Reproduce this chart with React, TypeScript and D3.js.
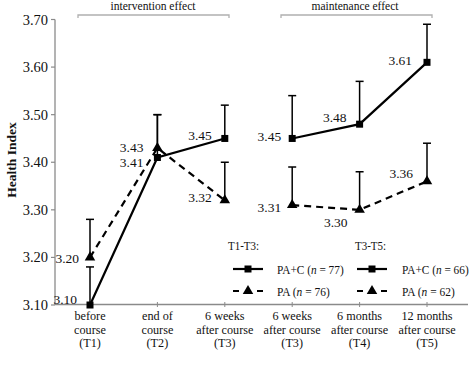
import React from "react";
import * as d3 from "d3";

const categoryIds = ["T1", "T2", "T3a", "T3b", "T4", "T5"];
const categoryLabels = [
  ["before", "course", "(T1)"],
  ["end of", "course", "(T2)"],
  ["6 weeks", "after course", "(T3)"],
  ["6 weeks", "after course", "(T3)"],
  ["6 months", "after course", "(T4)"],
  ["12 months", "after course", "(T5)"],
];
const yTicks = [3.1, 3.2, 3.3, 3.4, 3.5, 3.6, 3.7];
const pacValues = [3.1, 3.41, 3.45, 3.45, 3.48, 3.61];
const pacUpper = [3.18, 3.5, 3.52, 3.54, 3.57, 3.69];
const paValues = [3.2, 3.43, 3.32, 3.31, 3.3, 3.36];
const paUpper = [3.28, 3.5, 3.4, 3.39, 3.38, 3.44];
const segments = [
  [0, 1, 2],
  [3, 4, 5],
];
const legendGroups = ["T1-T3:", "T3-T5:"];
const pacN = ["77", "66"];
const paN = ["76", "62"];
// label layout: [dx, dy] relative to point (text right-aligned)
const pacLabelOffsets = [[-13, -6], [-14, 5], [-13, -3], [-11, -2], [-13, -7], [-15, -2]];
const paLabelOffsets = [[-11, 1], [-14, -1], [-13, -3], [-11, 2], [-12, 12], [-14, -8]];

const W = 474;
const H = 366;
const FONT = "'Times New Roman', Times, 'Liberation Serif', serif";

export default function App() {
  const x = d3.scalePoint<string>().domain(categoryIds).range([90, 427]);
  const y = d3.scaleLinear().domain([3.1, 3.7]).range([305, 19.5]);

  const mkLine = (vals: number[], idx: number[]) =>
    d3
      .line<number>()
      .x((i) => x(categoryIds[i]) as number)
      .y((i) => y(vals[i]))(idx) as string;

  const tri = d3.symbol().type(d3.symbolTriangle).size(48)() as string;
  const axisColor = "#8a8a8a";
  const legendCols = [
    { lx: 233, tx: 277, hx: 228 },
    { lx: 357, tx: 402, hx: 355 },
  ];

  return (
    <svg
      width={W}
      height={H}
      style={{ position: "absolute", left: 0, top: 0, background: "#fff", fontFamily: FONT }}
    >
      {/* brackets */}
      <g stroke="#b0b0b0" strokeWidth={1.3} fill="none">
        <path d="M78,18 V15 H229 V18" />
        <path d="M281,18 V15 H432 V18" />
      </g>
      <text x={110.5} y={10} fontSize={12.5} fill="#111" textLength={85} lengthAdjust="spacingAndGlyphs">
        intervention effect
      </text>
      <text x={311.5} y={10} fontSize={12.5} fill="#111" textLength={87} lengthAdjust="spacingAndGlyphs">
        maintenance effect
      </text>

      {/* y axis */}
      <line x1={55} x2={55} y1={y(3.7)} y2={y(3.1)} stroke={axisColor} strokeWidth={1.3} />
      {yTicks.map((t) => (
        <g key={t}>
          <line x1={51} x2={55} y1={y(t)} y2={y(t)} stroke={axisColor} strokeWidth={1.2} />
          <text x={48} y={y(t) + 5} textAnchor="end" fontSize={14.5} fill="#111">
            {t.toFixed(2)}
          </text>
        </g>
      ))}
      <text
        transform={`translate(16,160) rotate(-90)`}
        textAnchor="middle"
        fontSize={13.5}
        fontWeight="bold"
        fill="#111"
      >
        Health Index
      </text>

      {/* x axis */}
      <line x1={55} x2={468} y1={304.5} y2={304.5} stroke={axisColor} strokeWidth={1.3} />
      {categoryIds.map((c, i) => (
        <g key={c}>
          <line x1={x(c)} x2={x(c)} y1={302} y2={307} stroke={axisColor} strokeWidth={1} />
          {categoryLabels[i].map((l, j) => (
            <text
              key={j}
              x={x(c)}
              y={320 + j * 13.5}
              textAnchor="middle"
              fontSize={12.2}
              fill="#111"
            >
              {l}
            </text>
          ))}
        </g>
      ))}

      {/* error bars */}
      <g stroke="#000" strokeWidth={1.5}>
        {categoryIds.map((c, i) => {
          const cx = x(c) as number;
          return (
            <g key={c}>
              <line x1={cx} x2={cx} y1={y(pacValues[i])} y2={y(pacUpper[i])} />
              <line x1={cx - 4} x2={cx + 4} y1={y(pacUpper[i])} y2={y(pacUpper[i])} />
              <line x1={cx} x2={cx} y1={y(paValues[i])} y2={y(paUpper[i])} />
              <line x1={cx - 4} x2={cx + 4} y1={y(paUpper[i])} y2={y(paUpper[i])} />
            </g>
          );
        })}
      </g>

      {/* lines */}
      {segments.map((seg, k) => (
        <g key={k} fill="none" stroke="#000" strokeWidth={2.2}>
          <path d={mkLine(pacValues, seg)} />
          <path d={mkLine(paValues, seg)} strokeDasharray="7,5" />
        </g>
      ))}

      {/* markers */}
      {categoryIds.map((c, i) => {
        const cx = x(c) as number;
        return (
          <g key={c}>
            <rect x={cx - 3.5} y={y(pacValues[i]) - 3.5} width={7} height={7} fill="#000" />
            <path d={tri} transform={`translate(${cx},${y(paValues[i])})`} fill="#000" />
          </g>
        );
      })}

      {/* value labels */}
      {categoryIds.map((c, i) => {
        const cx = x(c) as number;
        return (
          <g key={c} fontSize={13.5} fill="#111" textAnchor="end">
            <text x={cx + pacLabelOffsets[i][0]} y={y(pacValues[i]) + pacLabelOffsets[i][1] + 5}>
              {pacValues[i].toFixed(2)}
            </text>
            <text x={cx + paLabelOffsets[i][0]} y={y(paValues[i]) + paLabelOffsets[i][1] + 5}>
              {paValues[i].toFixed(2)}
            </text>
          </g>
        );
      })}

      {/* legend */}
      <g fontSize={13} fill="#111">
        {legendCols.map((g, k) => (
          <g key={k}>
            <text x={g.hx} y={250} textLength={31} lengthAdjust="spacingAndGlyphs">
              {legendGroups[k]}
            </text>
            <line x1={g.lx} x2={g.lx + 30} y1={269} y2={269} stroke="#000" strokeWidth={2.2} />
            <rect x={g.lx + 11.5} y={265.5} width={7} height={7} fill="#000" />
            <line
              x1={g.lx}
              x2={g.lx + 30}
              y1={291}
              y2={291}
              stroke="#000"
              strokeWidth={2.2}
              strokeDasharray="6,6"
            />
            <path d={tri} transform={`translate(${g.lx + 15},${291})`} fill="#000" />
            <g transform={`translate(${g.tx},274) scale(0.87,1)`}>
              <text x={0} y={0}>
                PA+C (<tspan fontStyle="italic">n</tspan> = {pacN[k]})
              </text>
            </g>
            <g transform={`translate(${g.tx},296) scale(0.88,1)`}>
              <text x={0} y={0}>
                PA (<tspan fontStyle="italic">n</tspan> = {paN[k]})
              </text>
            </g>
          </g>
        ))}
      </g>
    </svg>
  );
}
